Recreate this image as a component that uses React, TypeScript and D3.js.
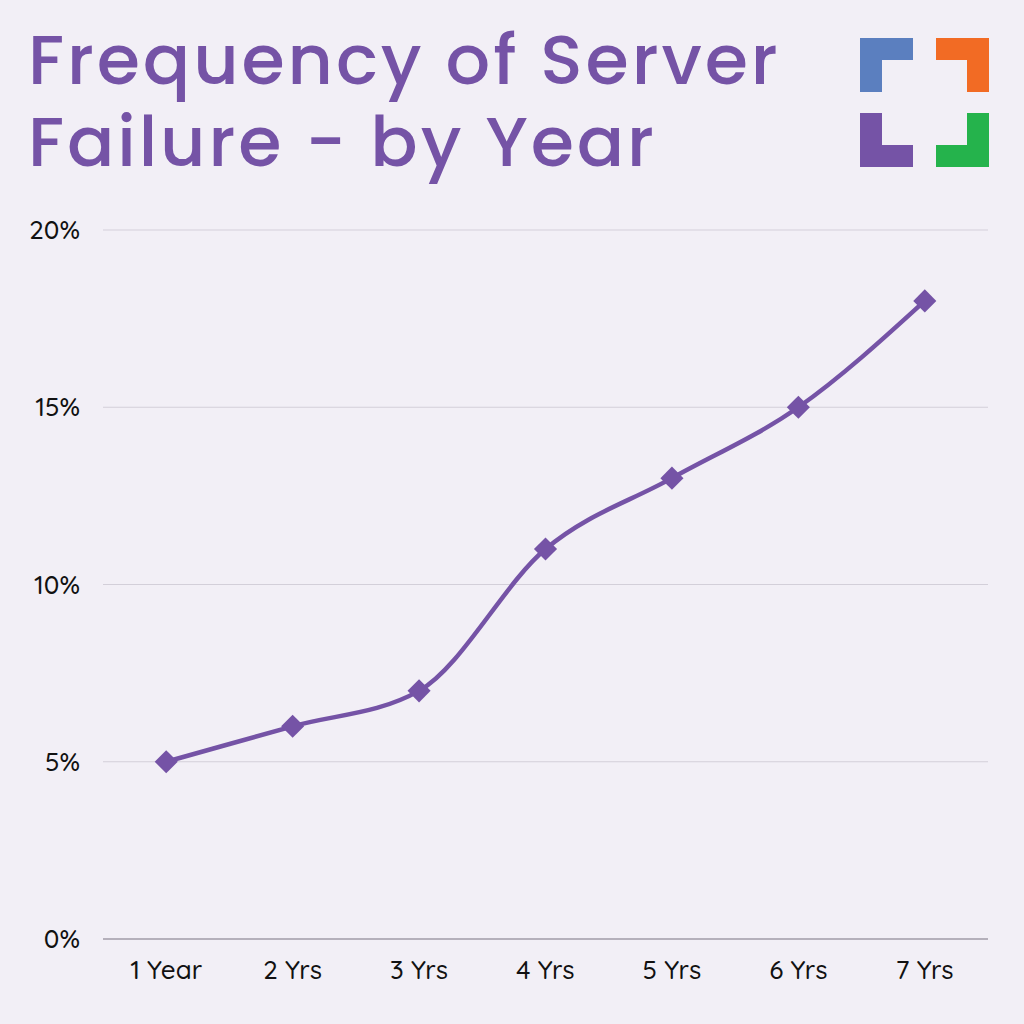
import React from 'react'
import * as d3 from 'd3'

const categories = ['1 Year', '2 Yrs', '3 Yrs', '4 Yrs', '5 Yrs', '6 Yrs', '7 Yrs']
const failureRate = [5, 6, 7, 11, 13, 15, 18]
const yTicks = [0, 5, 10, 15, 20]
const titleLines = ['Frequency of Server', 'Failure - by Year']

const purple = '#7553a6'
const bg = '#f2eff6'

const App = (): JSX.Element => {
  const width = 1024
  const height = 1024
  const left = 103
  const right = 988
  const top = 230
  const bottom = 939

  const x = d3.scaleBand<string>().domain(categories).range([left, right]).padding(0)
  const y = d3.scaleLinear().domain([0, 20]).range([bottom, top])
  const cx = (c: string) => (x(c) as number) + x.bandwidth() / 2

  const line = d3
    .line<number>()
    .x((_, i) => cx(categories[i]))
    .y(d => y(d))
    .curve(d3.curveMonotoneX)

  const diamond = d3.symbol().type(d3.symbolDiamond2).size(340)

  return (
    <svg width={width} height={height} style={{ position: 'fixed', left: 0, top: 0 }}>
      <rect width={width} height={height} fill={bg} />
      {titleLines.map((t, i) => (
        <text
          key={t}
          x={28}
          y={84 + i * 82}
          fill={purple}
          fontFamily="Poppins, 'Open Sans', sans-serif"
          fontSize={70}
          fontWeight={500}
          letterSpacing={2.9}
        >
          {t}
        </text>
      ))}
      {/* logo */}
      <g>
        <path d="M860,38H913V60H882V92H860Z" fill="#5b7fbf" />
        <path d="M936,38H989V92H967V60H936Z" fill="#f26b24" />
        <path d="M860,113H882V145H913V167H860Z" fill={purple} />
        <path d="M967,113H989V167H936V145H967Z" fill="#25b34c" />
      </g>
      {yTicks.map(t => (
        <g key={t}>
          {t > 0 && (
            <line x1={left} x2={right} y1={y(t)} y2={y(t)} stroke="#d3cfd9" strokeWidth={1.2} />
          )}
          <text
            x={80}
            y={y(t)}
            dy="0.35em"
            textAnchor="end"
            fontFamily="Quicksand, Lato, sans-serif"
            fontSize={26}
            fontWeight={500}
            fill="#111"
          >
            {t}%
          </text>
        </g>
      ))}
      <line x1={left} x2={right} y1={bottom} y2={bottom} stroke="#b5b0bb" strokeWidth={2} />
      {categories.map(c => (
        <text
          key={c}
          x={cx(c)}
          y={979}
          textAnchor="middle"
          fontFamily="Quicksand, Lato, sans-serif"
          fontSize={26}
          fontWeight={500}
          fill="#111"
        >
          {c}
        </text>
      ))}
      <path d={line(failureRate) as string} fill="none" stroke={purple} strokeWidth={4.5} />
      {failureRate.map((v, i) => (
        <path
          key={i}
          d={diamond() as string}
          transform={`translate(${cx(categories[i])},${y(v)})`}
          fill={purple}
        />
      ))}
    </svg>
  )
}

export default App
